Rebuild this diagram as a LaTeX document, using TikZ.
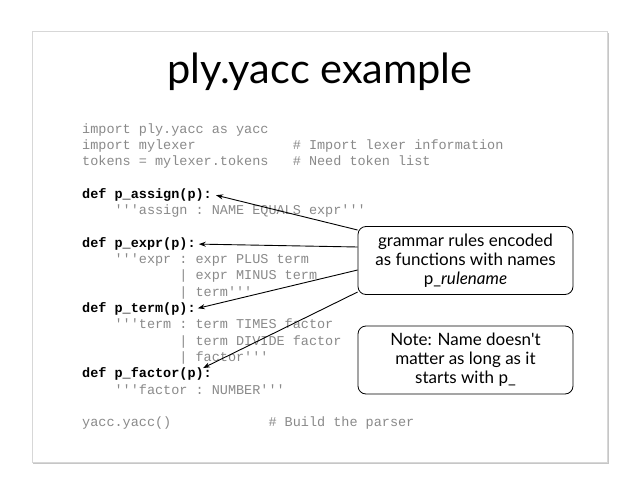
\documentclass[tikz,border=0pt]{standalone}
\usepackage{fontspec}
\setmainfont{Lato}[Ligatures=TeXOff]
\setmonofont{Liberation Mono}
\usetikzlibrary{positioning,calc,arrows.meta}
\tikzset{>={Stealth[length=7pt,width=5pt]}}
\definecolor{codegray}{RGB}{138,138,138}
\definecolor{framegray}{RGB}{215,215,215}
\tikzset{
  codeline/.style={anchor=west,inner sep=0pt,text height=9.5pt,text depth=3pt,
    font=\ttfamily\fontsize{13.5}{16}\selectfont,text=codegray},
  defline/.style={codeline,text=black,font=\ttfamily\bfseries\fontsize{13.5}{16}\selectfont},
  callout/.style={draw,rounded corners=8pt,line width=0.8pt,minimum width=215pt,
    minimum height=68pt,align=center,font=\fontsize{17}{19}\selectfont}
}

\begin{document}
\begin{tikzpicture}[x=1pt,y=-1pt]
\useasboundingbox (0,0) rectangle (640,495);
% slide frame
\fill[white] (32,32) rectangle (607,462);
\draw[framegray,line width=1pt] (32,32) rectangle (607,462);
\draw[gray!45,line width=1pt] (33,463) -- (608,463) -- (608,33);
\node (title) at (320,72) {\fontsize{41.5}{45}\selectfont ply.yacc example};
% code
\node[codeline] (imp1) at (82,130) {import ply.yacc as yacc};
\node[codeline] (imp2) at (82,146.3) {import mylexer};
\node[codeline] (cmt1) at (292.6,146.3) {\# Import lexer information};
\node[codeline] (tok) at (82,162.6) {tokens = mylexer.tokens};
\node[codeline] (cmt2) at (292.6,162.6) {\# Need token list};
\node[defline] (assign) at (82,195.2) {def p\_assign(p):};
\node[codeline] (doc1) at (114.4,211.5) {'''assign : NAME EQUALS expr'''};
\node[defline] (expr) at (82,244.1) {def p\_expr(p):};
\node[codeline] (doc2) at (114.4,260.4) {'''expr : expr PLUS term};
\node[codeline] (doc2b) at (179.2,276.7) {| expr MINUS term};
\node[codeline] (doc2c) at (179.2,293) {| term'''};
\node[defline] (term) at (82,309.3) {def p\_term(p):};
\node[codeline] (doc3) at (114.4,325.6) {'''term : term TIMES factor};
\node[codeline] (doc3b) at (179.2,341.9) {| term DIVIDE factor};
\node[codeline] (doc3c) at (179.2,358.2) {| factor'''};
\node[defline] (factor) at (82,374.5) {def p\_factor(p):};
\node[codeline] (doc4) at (114.4,390.8) {'''factor : NUMBER'''};
\node[codeline] (call) at (82,423.4) {yacc.yacc()};
\node[codeline] (cmt3) at (268.3,423.4) {\# Build the parser};
% callouts
\node[callout] (rules) at (465.5,260.5) {grammar rules encoded\\as functions with names\\p\_\textit{rulename}};
\node[callout] (note) at (465.5,360) {Note: Name doesn't\\matter as long as it\\starts with p\_};
\draw[->,line width=0.9pt] ([yshift=30.5pt]rules.west) -- ([xshift=4pt]assign.east);
\draw[->,line width=0.9pt] ([yshift=13.5pt]rules.west) -- ([xshift=3pt]expr.east);
\draw[->,line width=0.9pt] ([yshift=-9.5pt]rules.west) -- ([xshift=2pt,yshift=1pt]term.east);
\draw[->,line width=0.9pt] ([yshift=-31.5pt]rules.west) -- ([xshift=-9pt]factor.north east);
\end{tikzpicture}
\end{document}
